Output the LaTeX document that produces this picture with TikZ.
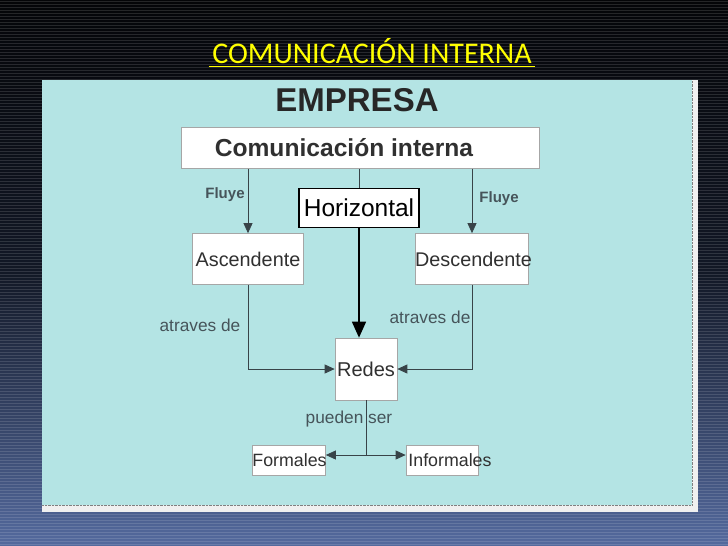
\documentclass[tikz,border=0pt]{standalone}
\usepackage{fontspec}
\setmainfont{Liberation Sans}
\newfontfamily\titlefont{Carlito}
\usepackage{tikz}
\usetikzlibrary{arrows.meta}
\definecolor{panelc}{RGB}{180,228,228}
\definecolor{lblc}{RGB}{70,84,90}
\definecolor{txtc}{RGB}{48,48,48}
\definecolor{ttlc}{RGB}{255,255,0}
\definecolor{bgtop}{RGB}{4,5,8}
\definecolor{bgmid}{RGB}{18,24,38}
\definecolor{bgbot}{RGB}{84,106,158}
\begin{document}
\begin{tikzpicture}[x=1pt,y=-1pt]
\tikzstyle{box}=[draw=gray!70,fill=white,line width=0.7pt,inner sep=0pt,text=txtc]
\tikzstyle{lbl}=[text=lblc,font=\fontsize{17.3}{19}\selectfont]
\tikzstyle{thin}=[draw=lblc!80!black,line width=0.8pt,-{Triangle[length=10pt,width=9pt]}]
\useasboundingbox (0,0) rectangle (728,546);
% background
\shade[top color=bgtop,bottom color=bgbot,middle color=bgmid] (0,0) rectangle (728,546);
\foreach \y in {1,4,...,546}
  \draw[white,opacity=0.13,line width=1pt] (0,\y) -- (728,\y);
% title
\node[text=ttlc,font=\titlefont\fontsize{30}{33}\selectfont] (ttl) at (372,51) {COMUNICACIÓN INTERNA};
\draw[ttlc,line width=1.3pt] ([yshift=-3pt]ttl.base west) -- ([yshift=-3pt]ttl.base east);
% panel
\fill[gray!12] (42,80) rectangle (698,512);
\fill[panelc] (42,80) rectangle (692,505);
\draw[gray,densely dotted] (42,505) -- (692,505) -- (692,80);
\node[font=\bfseries\fontsize{33}{35}\selectfont,text=txtc!80!black] (emp) at (357,100) {EMPRESA};
% boxes
\node[box,minimum width=358,minimum height=41,
  label={[xshift=-16pt,text=txtc,font=\bfseries\fontsize{24.6}{27}\selectfont]center:Comunicación interna}] (ci) at (360,148) {};
\node[box,draw=black,line width=1.3pt,text=black,minimum width=120,minimum height=39,font=\fontsize{24.5}{26}\selectfont] (hor) at (359,208) {Horizontal};
\node[box,minimum width=111,minimum height=51,font=\fontsize{19.8}{22}\selectfont] (asc) at (248,259) {Ascendente};
\node[box,minimum width=113,minimum height=51,
  label={[xshift=1.5pt,text=txtc,font=\fontsize{19.8}{22}\selectfont]center:Descendente}] (desc) at (472,259) {};
\node[box,minimum width=62,minimum height=62,font=\fontsize{20}{22}\selectfont] (redes) at (366,369) {Redes};
\node[box,minimum width=73,minimum height=30,
  label={[xshift=0.5pt,text=txtc,font=\fontsize{17.8}{20}\selectfont]center:Formales}] (form) at (289,460) {};
\node[box,minimum width=72,minimum height=30,
  label={[xshift=8pt,text=txtc,font=\fontsize{17.8}{20}\selectfont]center:Informales}] (inf) at (442,460) {};
\coordinate (split) at (redes.south |- 0,455);
% connectors
\draw[draw=lblc!80!black,line width=0.8pt] (ci.south -| hor.north) -- (hor.north);
\draw[thin] (ci.south -| asc.north) -- (asc.north);
\draw[thin] (ci.south -| desc.north) -- (desc.north);
\draw[line width=1.6pt,-{Triangle[length=16pt,width=14pt]}] (hor.south) -- (hor.south |- redes.north);
\draw[thin] (asc.south) |- (redes.west);
\draw[thin] (desc.south) |- (redes.east);
\draw[draw=lblc!80!black,line width=0.8pt] (redes.south) -- (split);
\draw[thin] (split) -- (split -| form.east);
\draw[thin] (split) -- (split -| inf.west);
% labels
\node[lbl,font=\bfseries\fontsize{15}{18}\selectfont] (fl1) at (225,195) {Fluye};
\node[lbl,font=\bfseries\fontsize{15}{18}\selectfont] (fl2) at (499,199) {Fluye};
\node[lbl] (at1) at (200,325) {atraves de};
\node[lbl] (at2) at (430,317) {atraves de};
\node[lbl] (ps) at (349,419) {pueden ser};
\end{tikzpicture}
\end{document}
